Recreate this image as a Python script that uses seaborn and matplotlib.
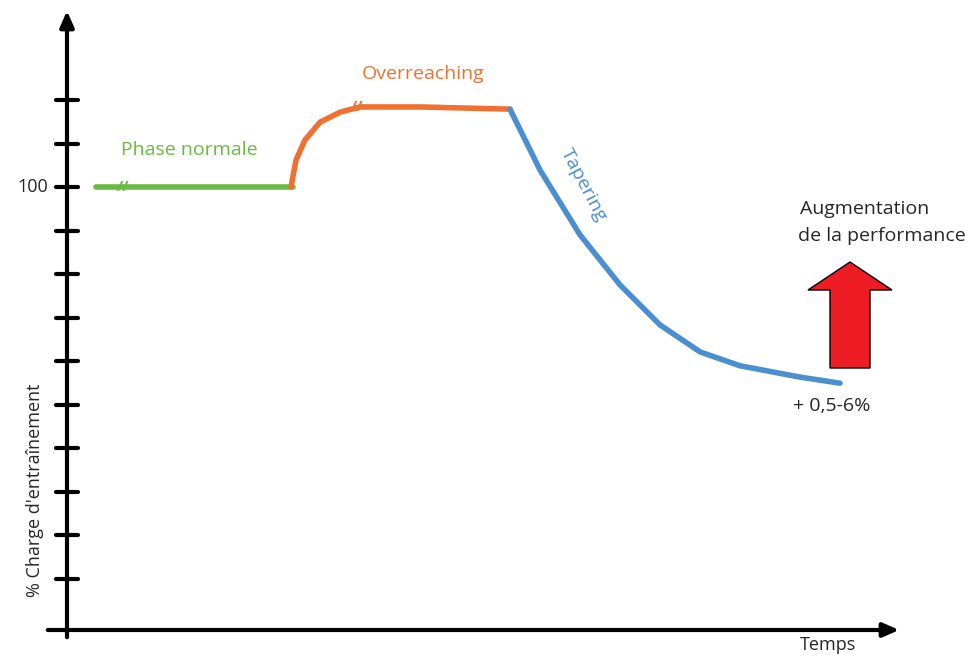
import matplotlib
matplotlib.use("Agg")
import matplotlib.pyplot as plt
import seaborn as sns
import pandas as pd
import numpy as np

sns.set_theme(style="white")
plt.rcParams['font.family'] = ['Open Sans', 'DejaVu Sans']

# Data (time in arbitrary units, load in %)
normal_t = [96, 293]
normal_v = [100, 100]
over_t = [291, 296, 305, 320, 340, 360, 420, 510]
over_v = [100, 106.2, 110.8, 114.9, 117.2, 118.4, 118.4, 117.9]
taper_t = [510, 540, 580, 620, 660, 700, 740, 800, 840]
taper_v = [117.9, 103.9, 89.0, 77.5, 68.3, 62.1, 58.9, 56.3, 54.9]
y_ticks = [10, 20, 30, 40, 50, 60, 70, 80, 90, 100, 110, 120]

def p2v(p):
    return 100 - (p - 187) / 4.35

fig = plt.figure(figsize=(9.77, 6.57), dpi=100)
ax = fig.add_axes([0, 0, 1, 1])
ax.set_xlim(0, 977)
ax.set_ylim(p2v(657), p2v(0))
ax.axis('off')

green, orange, blue = '#6ab944', '#ef7030', '#4a8fd0'
sns.lineplot(x=normal_t, y=normal_v, ax=ax, color=green, lw=4, sort=False)
sns.lineplot(x=over_t, y=over_v, ax=ax, color=orange, lw=4, sort=False)
sns.lineplot(x=taper_t, y=taper_v, ax=ax, color=blue, lw=4, sort=False)

# break marks
ax.text(123, 100, '//', color=green, fontsize=11, ha='center', va='center', fontweight='bold')
ax.text(357, 118.4, '//', color=orange, fontsize=11, ha='center', va='center', fontweight='bold')

# axes
y0 = p2v(630)
ax.annotate('', xy=(67, p2v(8)), xytext=(67, p2v(640)),
            arrowprops=dict(arrowstyle='-|>,head_width=0.35,head_length=0.8', color='black', lw=3))
ax.annotate('', xy=(902, y0), xytext=(45, y0),
            arrowprops=dict(arrowstyle='-|>,head_width=0.35,head_length=0.8', color='black', lw=3))
for t in y_ticks:
    ax.plot([56, 78], [t, t], color='black', lw=3)

ax.text(48, 100, '100', fontsize=13, ha='right', va='center')
ax.text(35, p2v(490), "% Charge d'entraînement", fontsize=13, rotation=90, ha='center', va='center')
ax.text(828, p2v(645), 'Temps', fontsize=13, ha='center', va='center')

ax.text(189, p2v(150), 'Phase normale', color=green, fontsize=14, ha='center', va='center')
ax.text(423, p2v(74), 'Overreaching', color=orange, fontsize=14, ha='center', va='center')
ax.text(584, p2v(185), 'Tapering', color=blue, fontsize=14, ha='center', va='center', rotation=-62)
ax.text(865, p2v(209), 'Augmentation', fontsize=14, ha='center', va='center')
ax.text(882, p2v(236), 'de la performance', fontsize=14, ha='center', va='center')
ax.text(832, p2v(406), '+ 0,5-6%', fontsize=14, ha='center', va='center')

# red arrow
ax_x = [830, 870, 870, 892, 850, 808, 830, 830]
ax_y = [p2v(p) for p in [368, 368, 290, 290, 262, 290, 290, 368]]
ax.fill(ax_x, ax_y, facecolor='#ee1c24', edgecolor='black', lw=1)

fig.savefig('out.png', dpi=100)
